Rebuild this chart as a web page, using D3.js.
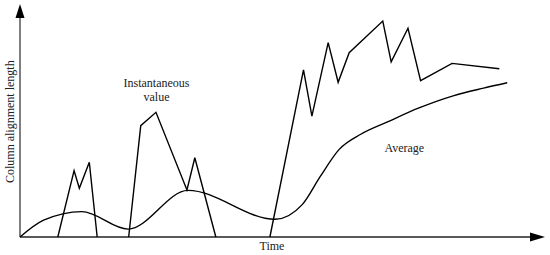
<!DOCTYPE html>
<html>
<head>
<meta charset="utf-8">
<script src="https://cdn.jsdelivr.net/npm/d3@7"></script>
<style>
  body { margin: 0; background: #fff; }
  text { font-family: "Liberation Serif", "Times New Roman", serif; fill: #222; }
</style>
</head>
<body>
<svg id="chart"></svg>
<script>
// Instantaneous value, three bursts (time, length)
const burstA = [[7.2, 0], [10.3, 28.5], [11.3, 20.9], [13.2, 32.1], [14.7, 0]];
const burstB = [[20.7, 0], [23.0, 47.8], [25.9, 53.5], [31.8, 20.2], [33.3, 34.0], [37.3, 0]];
const burstC = [[47.6, 0], [54.0, 71.7], [55.6, 51.9], [58.7, 83.4], [60.6, 66.4], [62.7, 79.1],
  [69.1, 92.7], [70.7, 75.2], [73.9, 89.6], [76.3, 67.1], [82.3, 74.5], [91.3, 72.2]];

// Average curve (key points)
const average = [[0, 0], [4.5, 7.2], [11.8, 10.9], [20.6, 3.4], [32.0, 20.0], [48.6, 7.6],
  [53.8, 14.0], [57.2, 26.0], [60.8, 37.6], [65.0, 44.2], [70.0, 49.4], [76.0, 55.4],
  [82.5, 60.6], [88.3, 63.9], [92.8, 66.2]];

const labels = [
  { text: 'Instantaneous', x: 26.0, y: 64.5 },
  { text: 'value', x: 26.0, y: 58.5 },
  { text: 'Average', x: 73.2, y: 36.5 }
];

const width = 550, height = 255;

const svg = d3.select('#chart')
  .attr('width', width)
  .attr('height', height);

const x = d3.scaleLinear().domain([0, 100]).range([20, 545]);
const y = d3.scaleLinear().domain([0, 100]).range([237, 4]);

// Axes with arrow heads
svg.append('line')
  .attr('x1', x(0)).attr('x2', x(100) - 10)
  .attr('y1', y(0)).attr('y2', y(0))
  .attr('stroke', '#222').attr('stroke-width', 1.5);
svg.append('line')
  .attr('x1', x(0)).attr('x2', x(0))
  .attr('y1', y(0)).attr('y2', y(100) + 10)
  .attr('stroke', '#555').attr('stroke-width', 1.5);

svg.append('path')
  .attr('d', `M${x(100)},${y(0)} L${x(100) - 15},${y(0) - 4.5} L${x(100) - 15},${y(0) + 4.5} Z`)
  .attr('fill', '#000');
svg.append('path')
  .attr('d', `M${x(0)},${y(100)} L${x(0) - 4.5},${y(100) + 14} L${x(0) + 4.5},${y(100) + 14} Z`)
  .attr('fill', '#000');

// Lines
const line = d3.line()
  .x(d => x(d[0]))
  .y(d => y(d[1]));

svg.selectAll('.burst')
  .data([burstA, burstB, burstC])
  .join('path')
  .attr('class', 'burst')
  .attr('d', line)
  .attr('fill', 'none')
  .attr('stroke', '#000')
  .attr('stroke-width', 1.4);

const smooth = d3.line()
  .x(d => x(d[0]))
  .y(d => y(d[1]))
  .curve(d3.curveMonotoneX);

svg.append('path')
  .datum(average)
  .attr('d', smooth)
  .attr('fill', 'none')
  .attr('stroke', '#000')
  .attr('stroke-width', 1.4);

// Texts
svg.selectAll('.note')
  .data(labels)
  .join('text')
  .attr('class', 'note')
  .attr('x', d => x(d.x))
  .attr('y', d => y(d.y))
  .attr('text-anchor', 'middle')
  .style('font-size', '12px')
  .text(d => d.text);

svg.append('text')
  .attr('x', x(48))
  .attr('y', 250)
  .attr('text-anchor', 'middle')
  .style('font-size', '12px')
  .text('Time');

svg.append('text')
  .attr('transform', `translate(13.5,${y(49.5)}) rotate(-90)`)
  .attr('text-anchor', 'middle')
  .style('font-size', '12px')
  .text('Column alignment length');
</script>
</body>
</html>
